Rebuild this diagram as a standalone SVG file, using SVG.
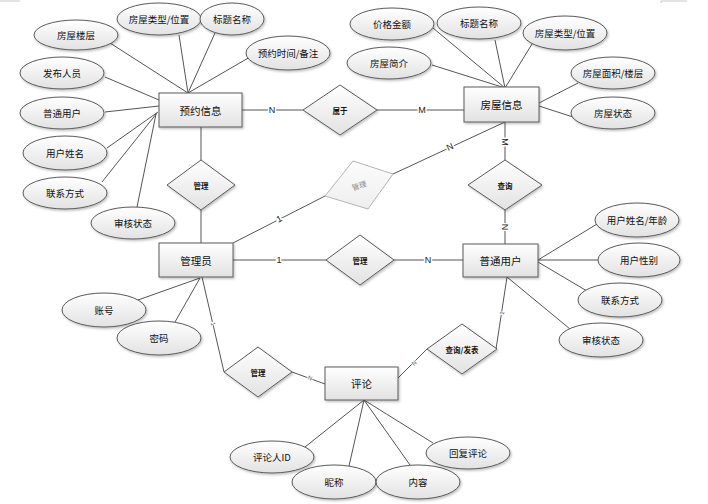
<svg xmlns="http://www.w3.org/2000/svg" width="708" height="504" viewBox="0 0 708 504">
<defs>
<linearGradient id="g" x1="0" y1="0" x2="0" y2="1">
<stop offset="0" stop-color="#ffffff"/>
<stop offset="1" stop-color="#e2e2e2"/>
</linearGradient>
<linearGradient id="g2" x1="0" y1="0" x2="0" y2="1">
<stop offset="0" stop-color="#fcfcfc"/>
<stop offset="1" stop-color="#eeeeee"/>
</linearGradient>
<filter id="sh" x="-20%" y="-20%" width="150%" height="160%">
<feDropShadow dx="1.2" dy="1.5" stdDeviation="0.8" flood-color="#000" flood-opacity="0.25"/>
</filter>
</defs>
<style>
.n{fill:url(#g);stroke:#5a5a5a;stroke-width:1;filter:url(#sh)}
.gd{fill:url(#g2);stroke:#b4b4b4;stroke-width:1}
.c{stroke:#555;stroke-width:1;fill:none}
.t{font-family:"Noto Sans CJK SC","Liberation Sans",sans-serif;text-anchor:middle;dominant-baseline:central;fill:#111}
.e{font-size:10.5px}
.a{font-size:9.5px}
.r{font-size:7.5px;font-weight:bold}
.l{font-family:"Liberation Sans",sans-serif;font-size:9px;text-anchor:middle;dominant-baseline:central;fill:#222;stroke:#fff;stroke-width:3;paint-order:stroke}
.s{font-family:"Liberation Sans",sans-serif;font-size:6px;text-anchor:middle;dominant-baseline:central;fill:#555;stroke:#fff;stroke-width:2;paint-order:stroke}
</style>
<line x1="0" y1="1" x2="20" y2="1" stroke="#c8c8c8"/>
<path d="M661,3 V1 H687" stroke="#c8c8c8" fill="none"/>
<g id="connectors">
<line class="c" x1="110" y1="43" x2="188" y2="93"/>
<line class="c" x1="179" y1="35" x2="188" y2="93"/>
<line class="c" x1="215" y1="33" x2="188" y2="93"/>
<line class="c" x1="250" y1="57" x2="188" y2="93"/>
<line class="c" x1="105" y1="77" x2="159" y2="100"/>
<line class="c" x1="105" y1="112" x2="159" y2="106"/>
<line class="c" x1="107" y1="148" x2="158" y2="112"/>
<line class="c" x1="102" y1="182" x2="157" y2="113"/>
<line class="c" x1="137" y1="207" x2="156" y2="114"/>
<line class="c" x1="242" y1="110" x2="303" y2="110"/>
<line class="c" x1="377" y1="110" x2="464" y2="110"/>
<line class="c" x1="433" y1="28" x2="505" y2="88"/>
<line class="c" x1="495" y1="40" x2="505" y2="88"/>
<line class="c" x1="532" y1="44" x2="505" y2="88"/>
<line class="c" x1="432" y1="65" x2="505" y2="88"/>
<line class="c" x1="539" y1="103" x2="578" y2="83"/>
<line class="c" x1="539" y1="106" x2="573" y2="117"/>
<line class="c" x1="505" y1="122" x2="505" y2="160"/>
<line class="c" x1="505" y1="122" x2="393" y2="174"/>
<line class="c" x1="233" y1="243" x2="325" y2="196"/>
<line class="c" x1="201" y1="127" x2="201" y2="160"/>
<line class="c" x1="201" y1="210" x2="201" y2="243"/>
<line class="c" x1="233" y1="260" x2="326" y2="260"/>
<line class="c" x1="394" y1="260" x2="463" y2="260"/>
<line class="c" x1="505" y1="210" x2="505" y2="244"/>
<line class="c" x1="538" y1="260" x2="597" y2="224"/>
<line class="c" x1="538" y1="260" x2="598" y2="260"/>
<line class="c" x1="538" y1="262" x2="587" y2="291"/>
<line class="c" x1="507" y1="277" x2="570" y2="329"/>
<line class="c" x1="200" y1="278" x2="138" y2="300"/>
<line class="c" x1="200" y1="278" x2="175" y2="322"/>
<line class="c" x1="202" y1="277" x2="224" y2="372"/>
<line class="c" x1="292" y1="372" x2="325" y2="384"/>
<line class="c" x1="398" y1="378" x2="427" y2="349"/>
<line class="c" x1="496" y1="349" x2="507" y2="277"/>
<line class="c" x1="364" y1="400" x2="305" y2="447"/>
<line class="c" x1="364" y1="400" x2="349" y2="466"/>
<line class="c" x1="364" y1="400" x2="410" y2="465"/>
<line class="c" x1="364" y1="400" x2="433" y2="443"/>
<text class="l" x="272" y="110">N</text>
<text class="l" x="422" y="110">M</text>
<text class="l" transform="translate(505,142) rotate(90)">M</text>
<text class="l" transform="translate(450,147) rotate(-25)">N</text>
<text class="l" transform="translate(279,219) rotate(-27)">1</text>
<text class="l" x="279" y="260">1</text>
<text class="l" x="428" y="260">N</text>
<text class="l" transform="translate(505,227) rotate(90)">N</text>
<text class="s" transform="translate(213,324) rotate(77)">1</text>
<text class="s" transform="translate(310,378) rotate(20)">N</text>
<text class="s" transform="translate(414,363) rotate(-45)">N</text>
<text class="s" transform="translate(502,313) rotate(-81)">1</text>
</g>
<g id="yuyue"><rect class="n" x="159" y="93" width="83" height="34"/><text class="t e" x="200.5" y="110">预约信息</text></g>
<g id="fangwu"><rect class="n" x="464" y="87" width="75" height="35"/><text class="t e" x="501.5" y="104.5">房屋信息</text></g>
<g id="guanliyuan"><rect class="n" x="159" y="243" width="74" height="34"/><text class="t e" x="196" y="260">管理员</text></g>
<g id="putong"><rect class="n" x="463" y="244" width="75" height="33"/><text class="t e" x="500.5" y="260.5">普通用户</text></g>
<g id="pinglun"><rect class="n" x="325" y="367" width="73" height="33"/><text class="t e" x="361.5" y="383.5">评论</text></g>
<g id="shuyu"><polygon class="n" points="303,110 340,85 377,110 340,135"/><text class="t r" x="340" y="110">属于</text></g>
<g id="guanli1"><polygon class="n" points="167,185 201,160 235,185 201,210"/><text class="t r" x="201" y="185">管理</text></g>
<g id="guanli2"><polygon class="gd" points="353,161 393,174 368,209 325,196"/><text class="t" style="font-size:7.5px;fill:#8a8a8a" transform="translate(359,185) rotate(-18)">管理</text></g>
<g id="chaxun"><polygon class="n" points="468,185 505,160 542,185 505,210"/><text class="t r" x="505" y="185">查询</text></g>
<g id="guanli3"><polygon class="n" points="326,260 360,235 394,260 360,285"/><text class="t r" x="360" y="260">管理</text></g>
<g id="guanli4"><polygon class="n" points="224,372 258,347 292,372 258,397"/><text class="t r" x="258" y="372">管理</text></g>
<g id="chaxunfabiao"><polygon class="n" points="427,349 462,324 497,349 462,374"/><text class="t r" x="462" y="349">查询/发表</text></g>
<g id="a1"><ellipse class="n" cx="76" cy="35" rx="42" ry="15"/><text class="t a" x="76" y="35">房屋楼层</text></g>
<g id="a2"><ellipse class="n" cx="159" cy="19" rx="42" ry="16"/><text class="t a" x="159" y="19">房屋类型/位置</text></g>
<g id="a3"><ellipse class="n" cx="232" cy="19" rx="32" ry="16"/><text class="t a" x="232" y="19">标题名称</text></g>
<g id="a4"><ellipse class="n" cx="288" cy="53" rx="42" ry="17"/><text class="t a" x="288" y="53">预约时间/备注</text></g>
<g id="a5"><ellipse class="n" cx="62" cy="73" rx="42" ry="16"/><text class="t a" x="62" y="73">发布人员</text></g>
<g id="a6"><ellipse class="n" cx="62" cy="113" rx="42" ry="16"/><text class="t a" x="62" y="113">普通用户</text></g>
<g id="a7"><ellipse class="n" cx="65" cy="153" rx="42" ry="17"/><text class="t a" x="65" y="153">用户姓名</text></g>
<g id="a8"><ellipse class="n" cx="65" cy="193" rx="42" ry="16"/><text class="t a" x="65" y="193">联系方式</text></g>
<g id="a9"><ellipse class="n" cx="133" cy="223" rx="42" ry="16"/><text class="t a" x="133" y="223">审核状态</text></g>
<g id="b1"><ellipse class="n" cx="392" cy="24" rx="42" ry="16"/><text class="t a" x="392" y="24">价格金额</text></g>
<g id="b2"><ellipse class="n" cx="479" cy="23" rx="42" ry="16"/><text class="t a" x="479" y="23">标题名称</text></g>
<g id="b3"><ellipse class="n" cx="565" cy="33" rx="42" ry="17"/><text class="t a" x="565" y="33">房屋类型/位置</text></g>
<g id="b4"><ellipse class="n" cx="389" cy="63" rx="42" ry="16"/><text class="t a" x="389" y="63">房屋简介</text></g>
<g id="b5"><ellipse class="n" cx="613" cy="73" rx="42" ry="16"/><text class="t a" x="613" y="73">房屋面积/楼层</text></g>
<g id="b6"><ellipse class="n" cx="613" cy="113" rx="42" ry="16"/><text class="t a" x="613" y="113">房屋状态</text></g>
<g id="c1"><ellipse class="n" cx="637" cy="220" rx="42" ry="17"/><text class="t a" x="637" y="220">用户姓名/年龄</text></g>
<g id="c2"><ellipse class="n" cx="639" cy="260" rx="41" ry="17"/><text class="t a" x="639" y="260">用户性别</text></g>
<g id="c3"><ellipse class="n" cx="620" cy="300" rx="42" ry="17"/><text class="t a" x="620" y="300">联系方式</text></g>
<g id="c4"><ellipse class="n" cx="601" cy="340" rx="42" ry="17"/><text class="t a" x="601" y="340">审核状态</text></g>
<g id="d1"><ellipse class="n" cx="104" cy="310" rx="42" ry="17"/><text class="t a" x="104" y="310">账号</text></g>
<g id="d2"><ellipse class="n" cx="159" cy="338" rx="42" ry="17"/><text class="t a" x="159" y="338">密码</text></g>
<g id="e1"><ellipse class="n" cx="272" cy="457" rx="42" ry="16"/><text class="t a" x="272" y="457">评论人ID</text></g>
<g id="e2"><ellipse class="n" cx="334" cy="482" rx="42" ry="17"/><text class="t a" x="334" y="482">昵称</text></g>
<g id="e3"><ellipse class="n" cx="418" cy="482" rx="42" ry="17"/><text class="t a" x="418" y="482">内容</text></g>
<g id="e4"><ellipse class="n" cx="468" cy="453" rx="42" ry="16"/><text class="t a" x="468" y="453">回复评论</text></g>
</svg>
